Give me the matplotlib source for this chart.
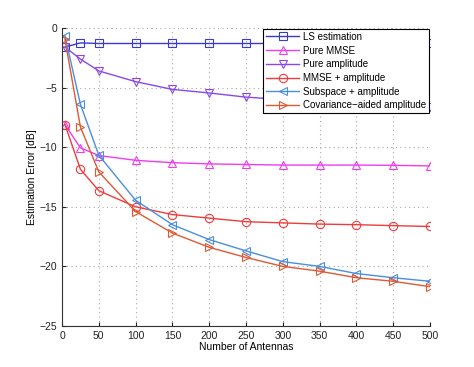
import matplotlib
matplotlib.use("Agg")
import matplotlib.pyplot as plt

plt.rcParams['font.family'] = ['Liberation Sans', 'DejaVu Sans']

antennas = [4, 25, 50, 100, 150, 200, 250, 300, 350, 400, 450, 500]
ls_est = [-1.6, -1.25, -1.3, -1.3, -1.3, -1.3, -1.3, -1.3, -1.3, -1.3, -1.3, -1.3]
pure_mmse = [-8.1, -10.05, -10.7, -11.1, -11.3, -11.4, -11.45, -11.5, -11.5, -11.5, -11.52, -11.57]
pure_amp = [-1.6, -2.6, -3.6, -4.5, -5.15, -5.45, -5.8, -6.0, -6.2, -6.35, -6.5, -6.6]
mmse_amp = [-8.1, -11.85, -13.65, -15.0, -15.65, -15.95, -16.25, -16.35, -16.45, -16.5, -16.58, -16.65]
subspace_amp = [-0.65, -6.4, -10.67, -14.45, -16.5, -17.75, -18.7, -19.6, -20.0, -20.6, -20.95, -21.25]
cov_amp = [-0.95, -8.3, -12.07, -15.4, -17.2, -18.4, -19.25, -20.0, -20.4, -20.95, -21.25, -21.7]

series = [
    ("LS estimation", ls_est, "#3a3ad0", "s"),
    ("Pure MMSE", pure_mmse, "#f03cf0", "^"),
    ("Pure amplitude", pure_amp, "#8a48e8", "v"),
    ("MMSE + amplitude", mmse_amp, "#ee3c3c", "o"),
    ("Subspace + amplitude", subspace_amp, "#4a8ee0", "<"),
    ("Covariance\u2212aided amplitude", cov_amp, "#dd5a35", ">"),
]

fig = plt.figure(figsize=(4.74, 3.67), dpi=100)
ax = fig.add_axes([62/474, 1-326/367, (430-62)/474, (326-28)/367])

for label, vals, color, m in series:
    ax.plot(antennas, vals, color=color, marker=m, markersize=6, markerfacecolor='none',
            markeredgecolor=color, linewidth=1.0, markeredgewidth=0.8, label=label)

ax.set_xlim(0, 500)
ax.set_ylim(-25, 0)
ax.set_xticks(range(0, 501, 50))
ax.set_yticks(range(-25, 1, 5))
ax.set_yticklabels(['\u221225', '\u221220', '\u221215', '\u221210', '\u22125', '0'])
ax.grid(True, linestyle=(0, (1, 3)), color='#aaaaaa', linewidth=0.8)
ax.spines['top'].set_visible(False)
ax.spines['right'].set_visible(False)
ax.spines['left'].set_color('#333333')
ax.spines['bottom'].set_color('#333333')
ax.tick_params(labelsize=7.5, direction='in', length=3, colors='#222222')
ax.set_xlabel('Number of Antennas', fontsize=7.5, labelpad=1)
ax.set_ylabel('Estimation Error [dB]', fontsize=7.5, labelpad=2)

leg = ax.legend(loc='upper right', fontsize=7, fancybox=False, framealpha=1,
                edgecolor='black', borderaxespad=0.1, handlelength=3.4,
                labelspacing=0.38, borderpad=0.3, handletextpad=0.4)
leg.get_frame().set_linewidth(0.8)

fig.savefig('out.png', dpi=100)
